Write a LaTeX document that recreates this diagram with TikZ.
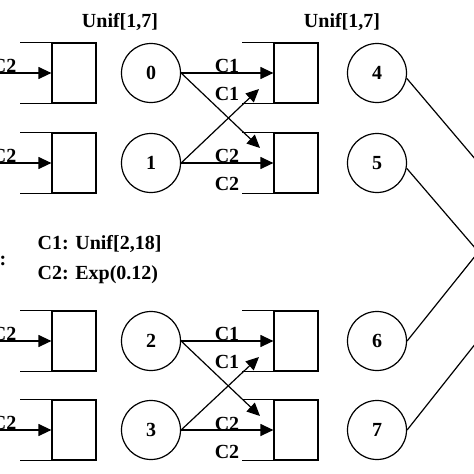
\documentclass[tikz,border=0pt]{standalone}
\usepackage{fontspec}
\setmainfont{Liberation Serif}
\usetikzlibrary{arrows.meta}
\newcommand\bigbf{\fontsize{20}{24}\selectfont\bfseries}
\begin{document}
\begin{tikzpicture}[x=1pt,y=-1pt,line width=1.2pt,
  srv/.style={circle,draw,minimum size=59pt,inner sep=0pt,font=\bigbf},
  buf/.style={draw,minimum width=44pt,minimum height=60pt,inner sep=0pt},
  arr/.style={-{Triangle[length=13pt,width=12pt]}},
  lbl/.style={font=\bigbf,inner sep=0pt}]
\useasboundingbox (0,0) rectangle (474,474);
% titles
\node[lbl,anchor=base] (t1) at (120,27) {Unif[1,7]};
\node[lbl,anchor=base] (t2) at (342,27) {Unif[1,7]};
% legend
\node[lbl,anchor=base east] (colon) at (7,265) {:};
\node[lbl,anchor=base west] (lg1) at (37,249) {C1: Unif[2,18]};
\node[lbl,anchor=base west] (lg2) at (37,279) {C2: Exp(0.12)};
% queues
\foreach \n/\y in {a/73,b/163,c/341,d/430}{
  \node[buf] (L\n) at (74,\y) {};
  \draw ([xshift=-31pt]L\n.north west) -- (L\n.north west);
  \draw ([xshift=-31pt]L\n.south west) -- (L\n.south west);
  \node[buf] (M\n) at (296,\y) {};
  \draw ([xshift=-31pt]M\n.north west) -- (M\n.north west);
  \draw ([xshift=-31pt]M\n.south west) -- (M\n.south west);
  \coordinate (S\n) at (-5,\y);
  \draw[arr] (S\n) -- (L\n.west);
  \node[lbl,anchor=base east] (lc\n) at (17,\y-1) {C2};
}
% servers
\node[srv] (c0) at (151,73) {0};
\node[srv] (c1) at (151,163) {1};
\node[srv] (c2) at (151,341) {2};
\node[srv] (c3) at (151,430) {3};
\node[srv] (c4) at (377,73) {4};
\node[srv] (c5) at (377,163) {5};
\node[srv] (c6) at (377,341) {6};
\node[srv] (c7) at (377,430) {7};
% cross targets
\coordinate (X0) at (260,148);
\coordinate (X1) at (259,89);
\coordinate (X2) at (260,416);
\coordinate (X3) at (259,357);
\draw[arr] (c0.east) -- (Ma.west);
\draw[arr] (c0.east) -- (X0);
\draw[arr] (c1.east) -- (X1);
\draw[arr] (c1.east) -- (Mb.west);
\draw[arr] (c2.east) -- (Mc.west);
\draw[arr] (c2.east) -- (X2);
\draw[arr] (c3.east) -- (X3);
\draw[arr] (c3.east) -- (Md.west);
% labels
\foreach \y [count=\i] in {0,268}{
  \node[lbl,anchor=base] (u1\i) at (227,72+\y) {C1};
  \node[lbl,anchor=base] (u2\i) at (227,100+\y) {C1};
  \node[lbl,anchor=base] (u3\i) at (227,162+\y) {C2};
  \node[lbl,anchor=base] (u4\i) at (227,190+\y) {C2};
}
% outgoing lines
\coordinate (E4) at (476,160);
\coordinate (E5) at (476,249);
\coordinate (E6) at (476,255);
\coordinate (E7) at (476,343);
\draw (c4.-10) -- (E4);
\draw (c5.-10) -- (E5);
\draw (c6.east) -- (E6);
\draw (c7.east) -- (E7);
\end{tikzpicture}
\end{document}
